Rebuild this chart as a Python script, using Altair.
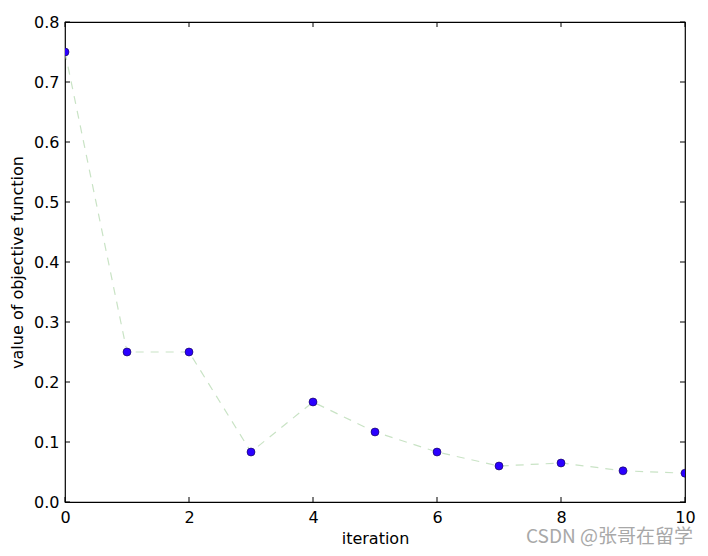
import altair as alt
import pandas as pd

iteration = [0, 1, 2, 3, 4, 5, 6, 7, 8, 9, 10]
objective = [0.75, 0.25, 0.25, 0.0833, 0.1667, 0.1167, 0.0833, 0.06, 0.065, 0.052, 0.048]
x_ticks = [0, 2, 4, 6, 8, 10]
y_ticks = [0.0, 0.1, 0.2, 0.3, 0.4, 0.5, 0.6, 0.7, 0.8]

df = pd.DataFrame({"iteration": iteration, "value": objective})
xt = pd.DataFrame({"t": x_ticks})
yt = pd.DataFrame({"t": y_ticks})

W, H = 620, 480
FONT = "DejaVu Sans"

xscale = alt.Scale(domain=[0, 10], nice=False)
yscale = alt.Scale(domain=[0, 0.8], nice=False)

xenc = alt.X("iteration:Q", scale=xscale,
             axis=alt.Axis(title="iteration", values=x_ticks, format="d", grid=False,
                           ticks=False, domain=False, labelPadding=7, titlePadding=5,
                           labelFlush=False, labelOverlap=False,
                           labelFontSize=16, titleFontSize=16, labelFont=FONT, titleFont=FONT,
                           labelColor="black", titleColor="black", titleFontWeight="normal"))
yenc = alt.Y("value:Q", scale=yscale,
             axis=alt.Axis(title="value of objective function", values=y_ticks, format=".1f",
                           grid=False, ticks=False, domain=False, labelPadding=6, titlePadding=8,
                           labelFlush=False, labelOverlap=False,
                           labelFontSize=16, titleFontSize=16, labelFont=FONT, titleFont=FONT,
                           labelColor="black", titleColor="black", titleFontWeight="normal"))

line = alt.Chart(df).mark_line(color="#c9e3c5", strokeWidth=1.2, strokeDash=[8, 7], clip=True).encode(
    x=xenc, y=yenc)
pts = alt.Chart(df).mark_point(filled=True, shape="circle", size=64, fill="#2a00ff",
                               stroke="#10004a", strokeWidth=0.6, opacity=1, clip=True).encode(
    x=alt.X("iteration:Q", scale=xscale), y=alt.Y("value:Q", scale=yscale))

tl = 5
xb = alt.Chart(xt).mark_rule(color="black", strokeWidth=1).encode(
    x=alt.X("t:Q", scale=xscale), y=alt.value(H), y2=alt.value(H - tl))
xtp = alt.Chart(xt).mark_rule(color="black", strokeWidth=1).encode(
    x=alt.X("t:Q", scale=xscale), y=alt.value(0), y2=alt.value(tl))
yl = alt.Chart(yt).mark_rule(color="black", strokeWidth=1).encode(
    y=alt.Y("t:Q", scale=yscale), x=alt.value(0), x2=alt.value(tl))
yr = alt.Chart(yt).mark_rule(color="black", strokeWidth=1).encode(
    y=alt.Y("t:Q", scale=yscale), x=alt.value(W), x2=alt.value(W - tl))

wm = alt.Chart(pd.DataFrame({"s": ["CSDN @张哥在留学"]})).mark_text(
    align="right", baseline="middle", font="Noto Sans CJK SC", fontSize=19, color="#a8a8a8"
).encode(text="s:N", x=alt.value(W + 8), y=alt.value(H + 35))

chart = alt.layer(line, pts, xb, xtp, yl, yr, wm).properties(
    width=W, height=H,
    padding={"left": 57, "top": 14, "right": 15, "bottom": 46},
    autosize=alt.AutoSizeParams(type="none"),
    background="white",
).configure_view(stroke="black", strokeWidth=1.2)

chart.save("out.html", embed_options={"renderer": "svg", "actions": False})
